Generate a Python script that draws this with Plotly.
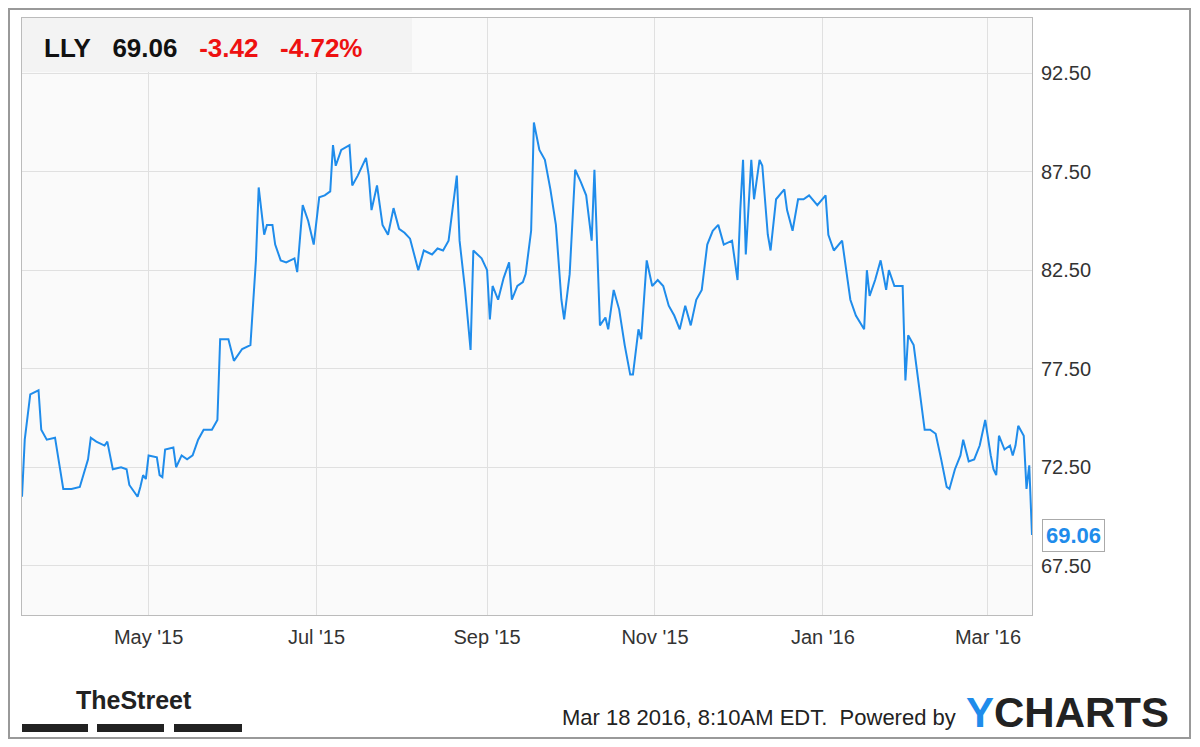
import plotly.graph_objects as go

dates = ["2015-03-16","2015-03-17","2015-03-19","2015-03-22","2015-03-23","2015-03-25","2015-03-28","2015-03-30","2015-03-31",
"2015-04-03","2015-04-06","2015-04-09","2015-04-10","2015-04-12","2015-04-15","2015-04-16","2015-04-18","2015-04-21","2015-04-23",
"2015-04-24","2015-04-27","2015-04-28","2015-04-29","2015-04-30","2015-05-01","2015-05-04","2015-05-05","2015-05-06","2015-05-07",
"2015-05-10","2015-05-11","2015-05-13","2015-05-15","2015-05-17","2015-05-19","2015-05-21","2015-05-24","2015-05-26","2015-05-27",
"2015-05-30","2015-06-01","2015-06-04","2015-06-07","2015-06-09","2015-06-10","2015-06-12","2015-06-13","2015-06-15","2015-06-16",
"2015-06-18","2015-06-20","2015-06-23","2015-06-24","2015-06-26","2015-06-28","2015-06-30","2015-07-02","2015-07-04","2015-07-06",
"2015-07-07","2015-07-08","2015-07-10","2015-07-13","2015-07-14","2015-07-16","2015-07-19","2015-07-20","2015-07-21","2015-07-23",
"2015-07-25","2015-07-27","2015-07-29","2015-07-31","2015-08-02","2015-08-04","2015-08-07","2015-08-09","2015-08-12","2015-08-14",
"2015-08-16","2015-08-18","2015-08-21","2015-08-22","2015-08-24","2015-08-26","2015-08-27","2015-08-30","2015-09-01","2015-09-02",
"2015-09-03","2015-09-05","2015-09-07","2015-09-09","2015-09-10","2015-09-12","2015-09-14","2015-09-15","2015-09-17","2015-09-18",
"2015-09-20","2015-09-22","2015-09-24","2015-09-26","2015-09-28","2015-09-29","2015-10-01","2015-10-03","2015-10-05","2015-10-07",
"2015-10-09","2015-10-10","2015-10-12","2015-10-14","2015-10-15","2015-10-17","2015-10-19","2015-10-21","2015-10-23","2015-10-24",
"2015-10-26","2015-10-27","2015-10-29","2015-10-31","2015-11-02","2015-11-04","2015-11-06","2015-11-08","2015-11-10","2015-11-12",
"2015-11-14","2015-11-16","2015-11-18","2015-11-20","2015-11-22","2015-11-24","2015-11-26","2015-11-29","2015-12-01","2015-12-02",
"2015-12-03","2015-12-04","2015-12-06","2015-12-07","2015-12-09","2015-12-10","2015-12-12","2015-12-13","2015-12-15","2015-12-18",
"2015-12-19","2015-12-21","2015-12-23","2015-12-25","2015-12-27","2015-12-30","2016-01-02","2016-01-03","2016-01-05","2016-01-08",
"2016-01-10","2016-01-11","2016-01-13","2016-01-16","2016-01-17","2016-01-18","2016-01-20","2016-01-22","2016-01-24","2016-01-25",
"2016-01-27","2016-01-30","2016-01-31","2016-02-01","2016-02-03","2016-02-05","2016-02-07","2016-02-09","2016-02-11","2016-02-13",
"2016-02-15","2016-02-16","2016-02-18","2016-02-20","2016-02-21","2016-02-23","2016-02-25","2016-02-27","2016-02-29","2016-03-02",
"2016-03-03","2016-03-04","2016-03-05","2016-03-07","2016-03-09","2016-03-10","2016-03-11","2016-03-12","2016-03-14","2016-03-15",
"2016-03-16","2016-03-17"]

prices = [71.0,73.9,76.2,76.4,74.4,73.9,74.0,72.4,71.4,
71.4,71.5,72.9,74.0,73.8,73.6,73.8,72.4,72.5,72.4,
71.6,71.0,71.5,72.1,71.9,73.1,73.0,72.1,72.0,73.4,
73.5,72.5,73.1,72.9,73.1,73.9,74.4,74.4,74.9,79.0,
79.0,77.9,78.5,78.7,83.0,86.7,84.3,84.8,84.8,83.8,
83.0,82.9,83.1,82.4,85.8,85.0,83.8,86.2,86.3,86.5,
88.85,87.8,88.6,88.85,86.8,87.3,88.2,87.3,85.55,86.8,
84.8,84.3,85.65,84.6,84.4,84.1,82.5,83.5,83.3,83.6,
83.5,84.0,87.3,84.0,81.5,78.45,83.5,83.1,82.5,80.0,
81.7,81.0,82.1,82.9,81.0,81.7,81.9,82.3,84.5,90.0,
88.6,88.1,86.6,84.8,81.0,80.0,82.3,87.6,87.0,86.3,
84.0,87.6,79.7,80.1,79.5,81.5,80.5,78.7,77.2,77.2,
79.5,79.0,83.0,81.7,82.0,81.7,80.7,80.2,79.5,80.7,
79.7,81.0,81.5,83.8,84.5,84.8,83.8,84.0,82.0,85.55,
88.1,83.3,88.1,86.1,88.1,87.8,84.3,83.5,86.1,86.6,
85.55,84.5,86.1,86.1,86.3,85.8,86.3,84.3,83.5,84.0,
82.0,81.0,80.2,79.5,82.5,81.2,82.0,83.0,81.5,82.5,
81.7,81.7,76.9,79.2,78.7,76.4,74.4,74.4,74.2,72.9,
71.5,71.4,72.4,73.1,73.9,72.8,72.9,73.6,74.9,73.1,
72.4,72.1,74.1,73.4,73.6,73.1,73.6,74.6,74.1,71.4,
72.6,69.06]

last = prices[-1]
fig = go.Figure(go.Scatter(x=dates, y=prices, mode="lines",
                           line=dict(color="#1f8ceb", width=2), hoverinfo="skip"))

# page offset of the figure is 8px (body margin)
fig.update_layout(
    width=1200, height=747, paper_bgcolor="white", plot_bgcolor="#fafafa",
    margin=dict(l=14, r=176, t=10, b=140), showlegend=False,
    font=dict(family="Arial, Liberation Sans, sans-serif", color="#333", size=17),
    xaxis=dict(range=["2015-03-16", "2016-03-17"], showgrid=True, gridcolor="#e0e0e0",
               tickvals=["2015-05-01","2015-07-01","2015-09-01","2015-11-01","2016-01-01","2016-03-01"],
               ticktext=["May '15","Jul '15","Sep '15","Nov '15","Jan '16","Mar '16"],
               ticks="outside", ticklen=4, tickcolor="white",
               showline=True, linecolor="#bbbbbb", mirror=True, zeroline=False,
               tickfont=dict(size=20, color="#333")),
    yaxis=dict(range=[65.0, 95.3], side="right", showgrid=True, gridcolor="#e0e0e0",
               tickvals=[67.5,72.5,77.5,82.5,87.5,92.5], ticktext=["67.50","72.50","77.50","82.50","87.50","92.50"],
               ticks="outside", ticklen=4, tickcolor="white",
               showline=True, linecolor="#bbbbbb", mirror=True, zeroline=False,
               tickfont=dict(size=20, color="#333")),
)

def px(x):
    return (x - 22) / 1010
def py(y):
    return (615 - y) / 597

shapes = [dict(type="rect", xref="paper", yref="paper", x0=px(9), x1=px(1190), y0=py(9), y1=py(738),
               line=dict(color="#999", width=2)),
          dict(type="rect", xref="paper", yref="paper", x0=0.0, x1=px(412), y0=py(72), y1=1.0,
               fillcolor="#f3f3f3", line=dict(width=0), layer="above")]
for x0, x1 in [(22, 88), (97, 164), (174, 242)]:
    shapes.append(dict(type="rect", xref="paper", yref="paper",
                       x0=px(x0), x1=px(x1), y0=py(724), y1=py(732),
                       fillcolor="#222", line=dict(width=0)))
fig.update_layout(shapes=shapes)

fig.add_annotation(xref="paper", yref="paper", x=px(42), y=py(48), xanchor="left", yanchor="middle",
                   showarrow=False,
                   text="<b>LLY</b>&nbsp;&nbsp;&nbsp;<b>69.06</b>&nbsp;&nbsp;&nbsp;<span style='color:#ee1111'><b>-3.42</b>&nbsp;&nbsp;&nbsp;<b>-4.72%</b></span>",
                   font=dict(size=26, color="#111"))
fig.add_annotation(x=dates[-1], y=last, xref="x", yref="y", xanchor="left", showarrow=False,
                   xshift=10, text="<b>69.06</b>", font=dict(size=22, color="#1f8ceb"),
                   bgcolor="white", bordercolor="#aaa", borderwidth=1, borderpad=3)
fig.add_annotation(xref="paper", yref="paper", x=px(74), y=py(700), xanchor="left", yanchor="middle",
                   showarrow=False, text="<b>TheStreet</b>",
                   font=dict(size=25, color="#222"))
fig.add_annotation(xref="paper", yref="paper", x=px(958), y=py(718), xanchor="right", yanchor="middle",
                   showarrow=False, text="Mar 18 2016, 8:10AM EDT.  Powered by",
                   font=dict(size=22, color="#222"))
fig.add_annotation(xref="paper", yref="paper", x=px(964), y=py(712), xanchor="left", yanchor="middle",
                   showarrow=False, text="<b><span style='color:#1f8ceb'>Y</span>CHARTS</b>", font=dict(size=42, color="#222"))

fig.write_html("out.html")
